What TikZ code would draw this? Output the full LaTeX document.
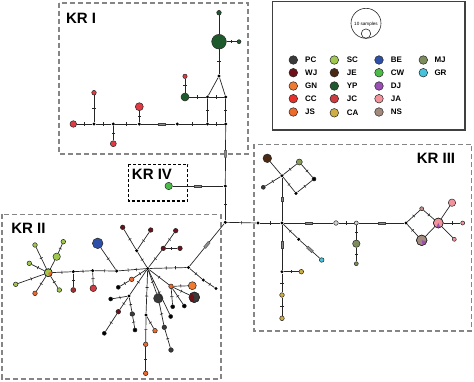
\documentclass[tikz,border=0pt]{standalone}
\usepackage{fontspec}
\setmainfont{Liberation Sans}
\definecolor{pc}{HTML}{3A3A3A}
\definecolor{wj}{HTML}{6E1018}
\definecolor{gn}{HTML}{F07A30}
\definecolor{cc}{HTML}{E8302A}
\definecolor{js}{HTML}{EE6A2C}
\definecolor{sc}{HTML}{A0C850}
\definecolor{je}{HTML}{4A2A12}
\definecolor{yp}{HTML}{1F5A2C}
\definecolor{jc}{HTML}{CC3C40}
\definecolor{ca}{HTML}{CFAE45}
\definecolor{be}{HTML}{2D4FA8}
\definecolor{cw}{HTML}{4DBB4A}
\definecolor{dj}{HTML}{9B4FB5}
\definecolor{ja}{HTML}{F2939C}
\definecolor{ns}{HTML}{A38A7C}
\definecolor{mj}{HTML}{7D8C5C}
\definecolor{gr}{HTML}{45C3DC}
\definecolor{kr}{HTML}{E23A44}
\definecolor{boxgray}{HTML}{858585}
\begin{document}
\begin{tikzpicture}[x=1pt,y=-1pt,
  cn/.style={draw=black!85, line width=0.7pt},
  med/.style={circle, fill=black, inner sep=0pt, minimum size=3.4pt},
  hap/.style={circle, draw=black!85, line width=0.5pt, inner sep=0pt, minimum size=#1},
  hap/.default=4.6pt,
  tk/.style={sloped, fill=black!85, inner sep=0pt, minimum width=0.6pt, minimum height=3.2pt},
  hx/.style={sloped, fill=black!45, draw=black!75, line width=0.3pt, inner sep=0pt, minimum width=7pt, minimum height=2.6pt},
  boxd/.style={draw=boxgray, line width=1.4pt, dash pattern=on 5pt off 3pt},
  lab/.style={font=\bfseries\fontsize{15}{15}\selectfont, inner sep=0pt},
  legt/.style={anchor=west, inner sep=0pt, font=\bfseries\fontsize{8}{8}\selectfont},
  legc/.style={circle, draw=black!85, line width=0.5pt, inner sep=0pt, minimum size=8.6pt},
  ]
\useasboundingbox (0,0) rectangle (474,381);

% ---------- region boxes ----------
\draw[boxd] (59,3) rectangle (248,154);
\draw[boxd] (2,214.3) rectangle (221,379);
\draw[boxd] (254,144.3) rectangle (471.7,331);
\draw[draw=black, line width=1.3pt, dash pattern=on 3pt off 2pt] (128.3,164.3) rectangle (187.7,201);
\node[lab] (lab1) at (81,18) {KR I};
\node[lab] (lab2) at (28.5,228.5) {KR II};
\node[lab] (lab3) at (436,158.5) {KR III};
\node[lab] (lab4) at (152,174.5) {KR IV};

% ---------- legend ----------
\draw[draw=black!75, line width=1.4pt] (272.3,1.2) rectangle (465,130);
\node[circle, draw=black!85, line width=0.6pt, inner sep=0pt, minimum size=30pt] (big10) at (366,23.3) {};
\node[circle, draw=black!85, line width=0.6pt, inner sep=0pt, minimum size=9.4pt] (sm10) at (366,33.6) {};
\node[inner sep=0pt, font=\fontsize{4.6}{5}\selectfont] (t10) at (366,24) {10 samples};
\foreach \c/\x/\y in {pc/293.3/60, wj/293.3/72.7, gn/293.3/86, cc/293.3/98.7, js/293.3/112,
                      sc/334.3/60, je/334.3/72.7, yp/334.3/86, jc/334.3/98.7, ca/334.3/112.8,
                      be/379/60, cw/379/72.7, dj/379/86, ja/379/98.7, ns/379/112,
                      mj/423.3/60, gr/423.3/72.7}{
  \node[legc, fill=\c] (l\c) at (\x,\y) {};
}
\foreach \c/\t/\x/\y in {pc/PC/305/60, wj/WJ/305/72.7, gn/GN/305/86, cc/CC/305/98.7, js/JS/305/112,
                      sc/SC/346.7/60, je/JE/346.7/72.7, yp/YP/346.7/86, jc/JC/346.7/98.7, ca/CA/346.7/112.8,
                      be/BE/390.7/60, cw/CW/390.7/72.7, dj/DJ/390.7/86, ja/JA/390.7/98.7, ns/NS/390.7/112,
                      mj/MJ/434.3/60, gr/GR/434.3/72.7}{
  \node[legt] (t\c) at (\x,\y) {\t};
}

% ---------- KR I ----------
\node[hap=4.6pt, fill=yp] (y1) at (219,12.7) {};
\node[hap=14.6pt, fill=yp] (Y1) at (219,41.7) {};
\node[hap=4pt, fill=yp] (y2) at (239,41.7) {};
\node[med] (m1) at (219,76) {};
\node[med] (m2) at (207.5,97) {};
\node[med] (m3) at (225.7,97) {};
\node[hap=8pt, fill=yp] (YPc) at (185,97) {};
\node[hap=4.4pt, fill=kr] (r1) at (185,76.3) {};
\node[med] (m4) at (225.7,124) {};
\node[med] (m5) at (207.5,124) {};
\node[med] (m6) at (177.3,124) {};
\node[med] (m7) at (139.3,124) {};
\node[med] (m8) at (113.3,124) {};
\node[med] (m9) at (94,124) {};
\node[hap=6.6pt, fill=kr] (r2) at (73.3,124) {};
\node[hap=4.6pt, fill=kr] (r3) at (94,92.7) {};
\node[hap=6pt, fill=kr] (r4) at (113.3,143.7) {};
\node[hap=8pt, fill=kr] (r5) at (139.3,106.7) {};

\draw[cn] (y1) -- (Y1);
\draw[cn] (Y1) -- node[tk]{} (y2);
\draw[cn] (Y1) -- node[tk]{} (m1);
\draw[cn] (m1) -- (m2);
\draw[cn] (m1) -- (m3);
\draw[cn] (m2) -- node[tk]{} (m3);
\draw[cn] (m2) -- node[tk]{} (YPc);
\draw[cn] (YPc) -- node[tk]{} (r1);
\draw[cn] (m2) -- node[tk]{} (m5);
\draw[cn] (m3) -- node[tk]{} (m4);
\draw[cn] (m5) -- node[tk]{} (m4);
\draw[cn] (m5) -- node[tk]{} (m6);
\draw[cn] (m6) -- node[hx, pos=0.4]{} (m7);
\draw[cn] (m7) -- node[tk]{} (m8);
\draw[cn] (m8) -- node[tk]{} (m9);
\draw[cn] (m9) -- node[tk]{} (r2);
\draw[cn] (m9) -- node[tk]{} (r3);
\draw[cn] (m8) -- node[tk]{} (r4);
\draw[cn] (m7) -- node[tk]{} (r5);

% ---------- trunk and KR IV ----------
\node[med] (m10) at (225.3,186) {};
\node[med] (m11) at (225.3,222.3) {};
\node[hap=7.4pt, fill=cw] (cw1) at (168.7,186) {};
\draw[cn] (m4) -- node[hx, pos=0.48]{} (m10);
\draw[cn] (m10) -- node[tk]{} (m11);
\draw[cn] (cw1) -- node[hx, pos=0.5]{} (m10);

% ---------- KR III ----------
\node[med] (k1) at (258,223) {};
\node[med] (k2) at (282,223) {};
\node[med] (k3) at (282,175.7) {};
\node[hap=8.6pt, fill=je] (je1) at (267.3,158.3) {};
\node[hap=4pt, fill=pc] (k4) at (263.3,187.3) {};
\node[hap=6pt, fill=mj!70!sc] (sc1) at (299.3,162) {};
\node[hap=4pt, fill=black] (k5) at (314,179) {};
\node[med] (k6) at (296,193.3) {};
\node[hap=4.6pt, fill=gray!35] (h1) at (336,223) {};
\node[hap=4pt, fill=gray!35] (h2) at (356.3,223) {};
\node[med] (k7) at (406,223) {};
\node[hap=7.4pt, fill=mj] (mj1) at (356.3,243.7) {};
\node[hap=4pt, fill=mj] (h3) at (356.3,263.7) {};
\node[hap=4pt, fill=ns!60!ja] (ja1) at (421.7,208.7) {};
\node[hap=10.6pt, fill=ns] (ns1) at (421.7,240.3) {};
\node[hap=10pt, fill=ja] (ja0) at (438.3,223) {};
\node[hap=7.4pt, fill=ja] (ja2) at (452,202.7) {};
\node[hap=4pt, fill=ja] (ja3) at (462.7,223) {};
\node[hap=4pt, fill=ja] (ja4) at (454.3,239.3) {};
\node[med] (k8) at (298.7,239.3) {};
\node[hap=4.6pt, fill=gr] (gr1) at (321.7,260) {};
\node[med] (k9) at (282,271.7) {};
\node[hap=4.6pt, fill=ca] (ca1) at (301.3,271.7) {};
\node[hap=4.6pt, fill=ca] (ca2) at (282,295) {};
\node[hap=4.6pt, fill=ca] (ca3) at (282,318.3) {};
\fill[dj] (ns1.center) -- ++(-80:5.1pt) arc[start angle=-80, end angle=-10, radius=5.1pt] -- cycle;
\draw[black!85, line width=0.5pt] (ns1.center) circle[radius=5.3pt];
\fill[dj] (ja0.center) -- ++(-115:4.8pt) arc[start angle=-115, end angle=-65, radius=4.8pt] -- cycle;
\draw[black!85, line width=0.5pt] (ja0.center) circle[radius=5pt];

\draw[cn] (m11) -- node[tk, pos=0.5]{} (k1);
\draw[cn] (k1) -- node[tk]{} (k2);
\draw[cn] (k2) -- node[hx, minimum width=4pt, pos=0.5]{} (k3);
\draw[cn] (k3) -- (je1);
\draw[cn] (k3) -- node[tk]{} (k4);
\draw[cn] (k3) -- node[tk]{} (sc1);
\draw[cn] (sc1) -- node[tk]{} (k5);
\draw[cn] (k5) -- node[tk]{} (k6);
\draw[cn] (k6) -- node[tk]{} (k3);
\draw[cn] (k2) -- node[hx, pos=0.5]{} (h1);
\draw[cn] (h1) -- node[tk]{} (h2);
\draw[cn] (h2) -- node[hx, pos=0.5]{} (k7);
\draw[cn] (h2) -- node[tk]{} (mj1);
\draw[cn] (mj1) -- node[tk]{} (h3);
\draw[cn] (k7) -- node[tk]{} (ja1);
\draw[cn] (k7) -- node[tk]{} (ns1);
\draw[cn] (ja1) -- node[tk]{} (ja0);
\draw[cn] (ns1) -- (ja0);
\draw[cn] (ja0) -- (ja2);
\draw[cn] (ja0) -- node[tk]{} (ja3);
\draw[cn] (ja0) -- (ja4);
\draw[cn] (k2) -- node[tk]{} (k8);
\draw[cn] (k8) -- node[hx, pos=0.5]{} (gr1);
\draw[cn] (k2) -- node[hx, pos=0.45]{} (k9);
\draw[cn] (k9) -- node[tk]{} (ca1);
\draw[cn] (k9) -- node[tk]{} (ca2);
\draw[cn] (ca2) -- node[tk]{} (ca3);

% ---------- KR II ----------
\node[med] (q1) at (188.5,267.5) {};
\node[med] (q2) at (203.3,280) {};
\node[med] (q3) at (216,288.5) {};
\node[med] (hub) at (147.7,268.5) {};
\node[med] (w1) at (136.7,250.7) {};
\node[hap=4.6pt, fill=wj] (w2) at (122.7,227.3) {};
\node[hap=4.6pt, fill=wj] (w3) at (150.7,230) {};
\node[hap=4.6pt, fill=wj] (w4) at (163.3,248.3) {};
\node[hap=4.6pt, fill=wj] (w5) at (175.7,230.7) {};
\node[hap=4.6pt, fill=wj] (w6) at (180,248.3) {};
\node[med] (q4) at (116.7,271) {};
\node[hap=10.6pt, fill=be] (be1) at (97.7,243.3) {};
\node[med] (q5) at (92.7,270.7) {};
\node[hap=6.6pt, fill=jc] (rd1) at (93.3,288.3) {};
\node[med] (q6) at (73.3,271.7) {};
\node[hap=5pt, fill=jc!80!black] (rd2) at (73.3,290) {};
\node[hap=8pt, fill=sc] (sch) at (48.3,272.7) {};
\node[hap=4.6pt, fill=sc] (s1) at (35,245) {};
\node[hap=7.4pt, fill=sc] (s2) at (56.7,256.7) {};
\node[hap=4.6pt, fill=sc] (s3) at (63.3,241.7) {};
\node[hap=4.6pt, fill=sc] (s4) at (29.3,263.3) {};
\node[hap=4.6pt, fill=sc] (s5) at (15.7,284.3) {};
\node[hap=4.6pt, fill=js] (s6) at (35,293.3) {};
\node[hap=4.6pt, fill=sc] (s7) at (59.3,290) {};
\fill[js] (sch.center) -- ++(-80:3.8pt) arc[start angle=-80, end angle=15, radius=3.8pt] -- cycle;
\draw[black!85, line width=0.5pt] (sch.center) circle[radius=4pt];
\node[hap=4.6pt, fill=js] (o1) at (131.7,279.3) {};
\node[hap=4pt, fill=black] (b1) at (118.3,287.3) {};
\node[med] (q7) at (129,296) {};
\node[hap=4pt, fill=black] (b2) at (110.7,299) {};
\node[hap=4.6pt, fill=wj] (w8) at (118.3,311.7) {};
\node[hap=4pt, fill=black] (b3) at (104.3,333.3) {};
\node[hap=4.6pt, fill=pc] (b4) at (132.3,314) {};
\node[hap=4pt, fill=black] (b5) at (135,330) {};
\node[med] (q8) at (146,315) {};
\node[hap=4.6pt, fill=js] (o2) at (145.7,344.3) {};
\node[hap=4.6pt, fill=js] (o3) at (145.7,373.3) {};
\node[hap=4.6pt, fill=js] (o4) at (155,330.7) {};
\node[hap=9.4pt, fill=pc] (pc1) at (158.3,298.3) {};
\node[hap=4.6pt, fill=pc] (b6) at (164.3,327.3) {};
\node[hap=4.6pt, fill=pc] (b7) at (171,350) {};
\node[hap=4pt, fill=black] (b8) at (170.7,316.5) {};
\node[hap=4.6pt, fill=js] (o5) at (171,286.3) {};
\node[hap=8pt, fill=gn] (gn1) at (192.3,285.7) {};
\node[hap=10.6pt, fill=pc] (pw) at (194.3,297.3) {};
\fill[wj] (pw.center) -- ++(120:5.1pt) arc[start angle=120, end angle=260, radius=5.1pt] -- cycle;
\draw[black!85, line width=0.5pt] (pw.center) circle[radius=5.3pt];
\node[hap=4pt, fill=black] (b9) at (172.7,306.7) {};
\node[hap=4pt, fill=black] (b10) at (184.3,306) {};

\draw[cn] (m11) -- node[hx, pos=0.5]{} (q1);
\draw[cn] (q1) -- node[tk]{} (q2);
\draw[cn] (q2) -- node[tk]{} (q3);
\draw[cn] (q1) -- node[tk, pos=0.3]{} node[tk, pos=0.55]{} (hub);
\draw[cn] (hub) -- node[tk]{} (w1);
\draw[cn] (w1) -- node[tk]{} (w2);
\draw[cn] (w1) -- node[tk]{} (w3);
\draw[cn] (hub) -- node[tk]{} (w4);
\draw[cn] (w4) -- node[tk]{} (w5);
\draw[cn] (w4) -- node[tk]{} (w6);
\draw[cn] (hub) -- node[tk, pos=0.35]{} node[tk, pos=0.65]{} (q4);
\draw[cn] (q4) -- node[tk]{} (be1);
\draw[cn] (q4) -- node[tk]{} (q5);
\draw[cn] (q5) -- node[tk]{} (rd1);
\draw[cn] (q5) -- node[tk]{} (q6);
\draw[cn] (q6) -- node[tk]{} (rd2);
\draw[cn] (q6) -- node[tk]{} (sch);
\draw[cn] (sch) -- node[tk]{} (s1);
\draw[cn] (sch) -- (s2);
\draw[cn] (s2) -- node[tk]{} (s3);
\draw[cn] (sch) -- node[tk]{} (s4);
\draw[cn] (sch) -- node[tk]{} (s5);
\draw[cn] (sch) -- node[tk]{} (s6);
\draw[cn] (sch) -- node[tk]{} (s7);
\draw[cn] (hub) -- node[tk]{} (o1);
\draw[cn] (o1) -- node[tk]{} (b1);
\draw[cn] (hub) -- node[tk]{} (q7);
\draw[cn] (q7) -- node[tk]{} (b2);
\draw[cn] (q7) -- node[tk]{} (w8);
\draw[cn] (w8) -- node[tk]{} (b3);
\draw[cn] (q7) -- node[tk]{} (b4);
\draw[cn] (b4) -- node[tk]{} (b5);
\draw[cn] (hub) -- node[tk, pos=0.4]{} node[tk, pos=0.6]{} (q8);
\draw[cn] (q8) -- node[tk]{} (o2);
\draw[cn] (o2) -- node[tk]{} (o3);
\draw[cn] (q8) -- node[tk]{} (o4);
\draw[cn] (hub) -- node[tk]{} (pc1);
\draw[cn] (pc1) -- node[tk]{} (b6);
\draw[cn] (b6) -- node[tk]{} (b7);
\draw[cn] (hub) -- node[tk]{} (b8);
\draw[cn] (hub) -- node[tk]{} (o5);
\draw[cn] (o5) -- node[tk]{} (gn1);
\draw[cn] (o5) -- node[tk]{} (pw);
\draw[cn] (o5) -- node[tk]{} (b9);
\draw[cn] (o5) -- node[tk]{} (b10);
\end{tikzpicture}
\end{document}
